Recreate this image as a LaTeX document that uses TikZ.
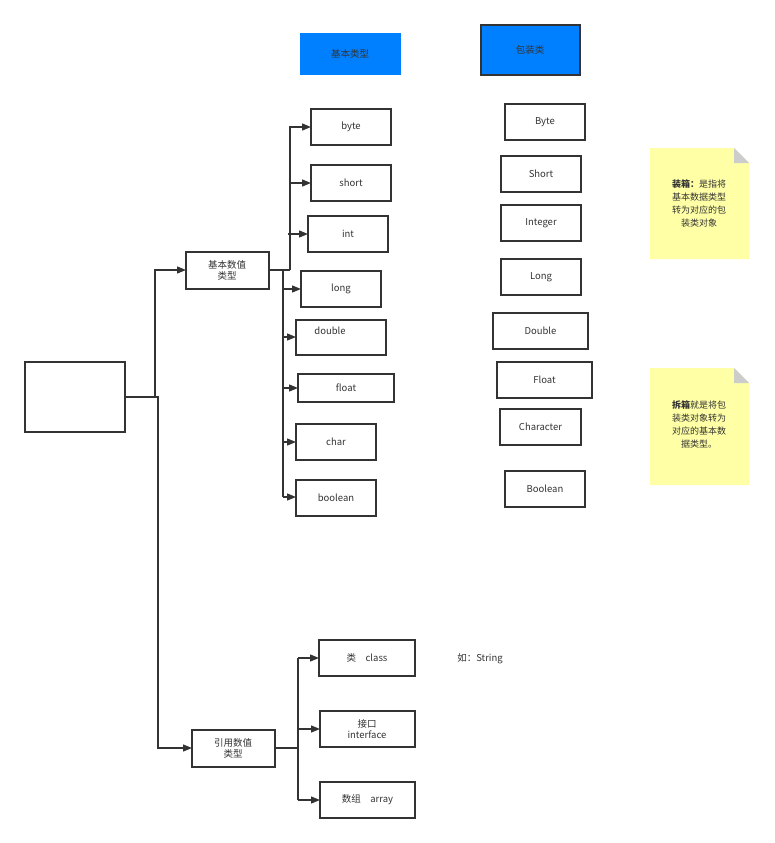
\documentclass[tikz,border=0pt]{standalone}
\usepackage{fontspec}
\setmainfont{Noto Sans CJK SC}
\usetikzlibrary{arrows.meta}
\definecolor{ln}{HTML}{333333}
\definecolor{note}{HTML}{FFFFA6}
\begin{document}
\begin{tikzpicture}[x=1pt,y=-1pt,
  bx/.style={draw=ln,line width=1.2pt,fill=white,font=\fontsize{9.5}{11}\selectfont,text=ln},
  con/.style={draw=ln,line width=1.3pt,-{Triangle[length=9pt,width=7pt]}},
  plain/.style={draw=ln,line width=1.3pt}]
\useasboundingbox (0,0) rectangle (774,843);
\newcommand\bb[6]{\node[bx,minimum width=#4-#2,minimum height=#5-#3,#6] (#1) at ({(#2+#4)/2},{(#3+#5)/2}) {};}
% root
\draw[bx] (25,362) rectangle (125,432); \coordinate (root) at (125,397);
\draw[bx] (186,252) rectangle (269,289); \node[font=\fontsize{9.5}{11}\selectfont,align=center,text=ln] (basic) at (227,270) {基本数值\\类型};
\draw[bx] (192,730) rectangle (275,767); \node[font=\fontsize{9.5}{11}\selectfont,align=center,text=ln] (ref) at (233,748) {引用数值\\类型};
\fill[fill={rgb,255:red,0;green,128;blue,255}] (300,33) rectangle (401,75);
\node[font=\fontsize{9.5}{11}\selectfont,text=ln] (h1) at (350,54) {基本类型};
\draw[draw=ln,line width=1.2pt,fill={rgb,255:red,0;green,128;blue,255}] (481,25) rectangle (580,75);
\node[font=\fontsize{9.5}{11}\selectfont,text=ln] (h2) at (530,50) {包装类};
% basic boxes
\foreach \n/\a/\b/\c/\d/\t in {byte/311/109/391/145/byte, short/311/165/391/201/short, int/308/216/388/252/int, long/301/271/381/307/long, float/298/374/394/402/float, char/296/424/376/460/char, boolean/296/480/376/516/boolean,
 Byte/505/104/585/140/Byte, Short/501/156/581/192/Short, Integer/501/205/581/241/Integer, Long/501/259/581/295/Long, Double/493/313/588/349/Double, Float/497/362/592/398/Float, Character/500/409/581/445/Character, Boolean/505/471/585/507/Boolean,
 class/319/640/415/676/{类\quad class}, array/320/782/415/818/{数组\quad array}}{
  \draw[bx] (\a,\b) rectangle (\c,\d);
  \node[font=\fontsize{9.5}{11}\selectfont,text=ln] (\n) at ({(\a+\c)/2},{(\b+\d)/2}) {\t};
}
\draw[bx] (296,320) rectangle (386,355); \node[font=\fontsize{9.5}{11}\selectfont,text=ln] (double) at (330,331) {double};
\draw[bx] (320,711) rectangle (415,747); \node[font=\fontsize{9.5}{11}\selectfont,text=ln,align=center] (iface) at (367,729) {接口\\interface};
\node[font=\fontsize{9.5}{11}\selectfont,text=ln] (str) at (480,659) {如：String};
% notes
\fill[note] (650,148) -- (734,148) -- (749,163) -- (749,259) -- (650,259) -- cycle;
\fill[gray!40] (734,148) -- (749,163) -- (734,163) -- cycle;
\node[font=\fontsize{9}{13}\selectfont,align=center,text=ln] (n1) at (699,203) {\textbf{装箱：}是指将\\基本数据类型\\转为对应的包\\装类对象};
\fill[note] (650,368) -- (734,368) -- (749,383) -- (749,485) -- (650,485) -- cycle;
\fill[gray!40] (734,368) -- (749,383) -- (734,383) -- cycle;
\node[font=\fontsize{9}{13}\selectfont,align=center,text=ln] (n2) at (699,424) {\textbf{拆箱}就是将包\\装类对象转为\\对应的基本数\\据类型。};
% connectors
\draw[con] (root) -- (155,397) -- (155,270) -- (186,270);
\draw[con] (root) -- (158,397) -- (158,748) -- (192,748);
\draw[plain] (269,270) -- (290,270);
\draw[con] (290,270) -- (290,127) -- (311,127);
\draw[con] (290,183) -- (311,183);
\draw[con] (288,234) -- (308,234);
\draw[plain,line width=2pt] (283,270) -- (283,497);
\foreach \y/\x in {289/301, 337/296, 388/298, 442/296, 497/296} \draw[con] (283,\y) -- (\x,\y);
\draw[plain] (275,748) -- (298,748);
\draw[plain] (298,658) -- (298,800);
\foreach \y/\x in {658/319, 729/320, 800/320} \draw[con] (298,\y) -- (\x,\y);
\end{tikzpicture}
\end{document}
